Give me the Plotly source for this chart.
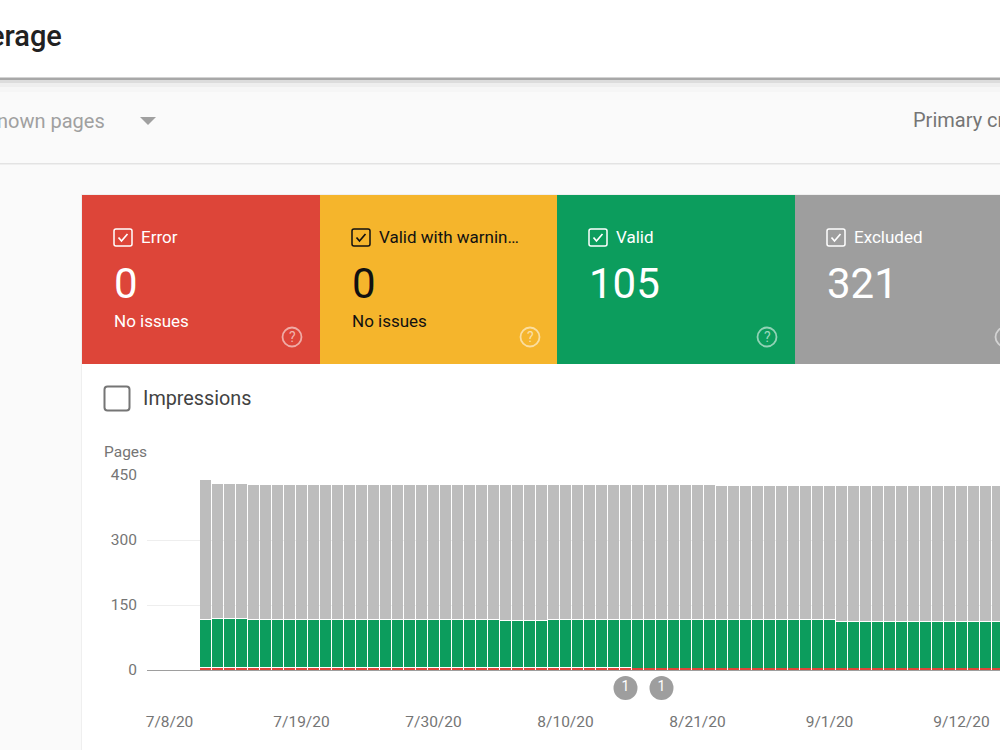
import pandas as pd
import plotly.graph_objects as go

W, H = 1000, 750
FONT = "Roboto"

# ---- data ----
dates = [d.strftime("%Y-%m-%d") for d in pd.date_range("2020-07-11", periods=67, freq="D")]
error = [4]*67
warnings_sep = [2]*36 + [0]*31   # thin pale band seen above the red series
valid = [109] + [112]*3 + [109]*21 + [107]*4 + [109]*7 + [111]*17 + [106]*14
sep = [2]*67                     # thin pale band between green and grey
excluded = [321] + [310]*3 + [310]*21 + [312]*4 + [310]*14 + [308]*10 + [313]*14
tick_dates = ["2020-07-08", "2020-07-19", "2020-07-30", "2020-08-10", "2020-08-21", "2020-09-01", "2020-09-12"]
tick_labels = ["7/8/20", "7/19/20", "7/30/20", "8/10/20", "8/21/20", "9/1/20", "9/12/20"]
y_ticks = [0, 150, 300, 450]
event_dates = ["2020-08-15", "2020-08-18"]
event_y = [-41.5, -41.5]
event_text = ["1", "1"]
card_titles = ["Error", "Valid with warnin…", "Valid", "Excluded"]
card_values = ["0", "0", "105", "321"]
card_subs = ["No issues", "No issues", "", ""]

RED, YEL, GRN, GRY = "#DD4539", "#F5B52C", "#0C9D5D", "#9E9E9E"
card_colors = [RED, YEL, GRN, GRY]
card_edges = [82, 320, 557, 795, 1003]
card_ink = ["white", "#111111", "white", "white"]

def px(x): return x / W
def py(y): return 1 - y / H

shapes, ann = [], []

def rect(x0, y0, x1, y1, fill, line=None, lw=0, layer="below", opacity=1):
    shapes.append(dict(type="rect", xref="paper", yref="paper", x0=px(x0), x1=px(x1), y0=py(y1), y1=py(y0),
                       fillcolor=fill, line=dict(color=line or "rgba(0,0,0,0)", width=lw), layer=layer, opacity=opacity))

def path(d, fill=None, line=None, lw=0):
    s = "M " + " L ".join(f"{px(a):.5f},{py(b):.5f}" for a, b in d)
    shapes.append(dict(type="path", xref="paper", yref="paper", path=s + (" Z" if fill else ""),
                       fillcolor=fill or "rgba(0,0,0,0)", line=dict(color=line or "rgba(0,0,0,0)", width=lw), layer="above"))

def rrect(x0, y0, x1, y1, r, line, lw):
    X0, X1, Y0, Y1 = px(x0), px(x1), py(y0), py(y1)
    rx, ry = r / W, r / H
    s = (f"M {X0+rx},{Y0} L {X1-rx},{Y0} Q {X1},{Y0} {X1},{Y0-ry} L {X1},{Y1+ry} Q {X1},{Y1} {X1-rx},{Y1} "
         f"L {X0+rx},{Y1} Q {X0},{Y1} {X0},{Y1+ry} L {X0},{Y0-ry} Q {X0},{Y0} {X0+rx},{Y0} Z")
    shapes.append(dict(type="path", xref="paper", yref="paper", path=s, line=dict(color=line, width=lw), layer="above"))

def text(x, y, s, size, color, anchor="left", weight=None):
    ann.append(dict(xref="paper", yref="paper", x=px(x), y=py(y), text=s, showarrow=False, xanchor=anchor, yanchor="middle",
                    font=dict(family=FONT, size=size, color=color, weight=weight), align=anchor, borderpad=0, borderwidth=0))

# page furniture
rect(0, 0, 1000, 750, "#FAFAFA")
rect(0, 78, 1000, 92, "#F6F6F6")
rect(0, 78, 1000, 87, "#EEEEEE")
rect(0, 78, 1000, 83, "#DCDCDC")
rect(0, 0, 1000, 78, "#FFFFFF")
rect(0, 77.5, 1000, 80, "#A8A8A8")
rect(0, 163, 1000, 164.5, "#E3E3E3")
rect(81, 194, 1003, 750, "#EFEFEF")
rect(82, 195, 1003, 750, "#FFFFFF")
text(62, 36, "erage", 29, "#212121", "right", 500)
text(105, 121, "nown pages", 20, "#A0A0A0", "right")
path([(140, 117), (156, 117), (148, 125)], fill="#A0A0A0")
text(913, 120, "Primary cr", 20, "#757575")

# status cards
for i in range(4):
    x0 = card_edges[i]
    ink = card_ink[i]
    rect(x0, 195, card_edges[i + 1], 364, card_colors[i])
    bx = x0 + 32
    rrect(bx, 229, bx + 18, 246, 2, ink, 1.5)
    path([(bx + 4.5, 237.5), (bx + 7.5, 241), (bx + 13.5, 234)], line=ink, lw=1.7)
    text(bx + 27, 237, card_titles[i], 17, ink)
    text(bx, 283, card_values[i], 42, ink)
    if card_subs[i]:
        text(bx, 321, card_subs[i], 17, ink)
    cx = x0 + 210
    shapes.append(dict(type="circle", xref="paper", yref="paper", x0=px(cx - 9.5), x1=px(cx + 9.5), y0=py(337 + 9.5), y1=py(337 - 9.5),
                       line=dict(color="rgba(255,255,255,0.55)", width=1.8), layer="above"))
    if cx < 1000:
        text(cx, 337, "?", 14, "rgba(255,255,255,0.6)", "center")

# chart header
rrect(104.5, 386.5, 129.5, 410.5, 3, "#757575", 2)
text(143, 398.5, "Impressions", 19.8, "#424242")
text(104, 452, "Pages", 15.5, "#757575")

fig = go.Figure()
def bars(name, vals, color):
    fig.add_bar(x=dates, y=vals, name=name, marker=dict(color=color, line=dict(width=0)), hoverinfo="skip")

bars("Error", error, "rgba(221,69,57,0.999)")
bars("Valid with warnings", warnings_sep, "rgba(255,255,255,0.999)")
bars("Valid", valid, "rgba(12,157,93,0.999)")
bars("Separator", sep, "rgba(255,255,255,0.999)")
bars("Excluded", excluded, "rgba(189,189,189,0.999)")
fig.add_scatter(x=event_dates, y=event_y, text=event_text, mode="markers+text", cliponaxis=False,
                marker=dict(size=24, color="#9E9E9E"), textposition="middle center",
                textfont=dict(family=FONT, size=14, color="white"), hoverinfo="skip")

Y_LOW = -(705 - 670) * 450 / 195   # axis extends below zero so the event badges fit in the plot
fig.update_layout(
    width=W, height=H, margin=dict(l=0, r=0, t=0, b=0), showlegend=False, barmode="stack", bargap=0.04,
    paper_bgcolor="rgba(0,0,0,0)", plot_bgcolor="rgba(0,0,0,0)", font=dict(family=FONT),
    shapes=shapes, annotations=ann,
    xaxis=dict(domain=[px(147), 1], type="date", range=["2020-07-06 03:00", "2020-09-15 05:00"], showgrid=False,
               tickvals=tick_dates, ticktext=tick_labels, tickangle=0, ticks="", showline=False, zeroline=False,
               automargin=False, ticklabelstandoff=5, tickfont=dict(family=FONT, size=15.5, color="#757575")),
    yaxis=dict(domain=[py(705), py(475)], range=[Y_LOW, 450], tickvals=y_ticks, gridcolor="#EEEEEE", gridwidth=1,
               zeroline=True, zerolinecolor="#9E9E9E", zerolinewidth=1, showline=False, ticks="outside", ticklen=6,
               automargin=False, tickcolor="rgba(0,0,0,0)", tickfont=dict(family=FONT, size=15.5, color="#757575")),
)
fig.write_html("out.html", config=dict(displayModeBar=False), post_script="document.body.style.margin='0';")
